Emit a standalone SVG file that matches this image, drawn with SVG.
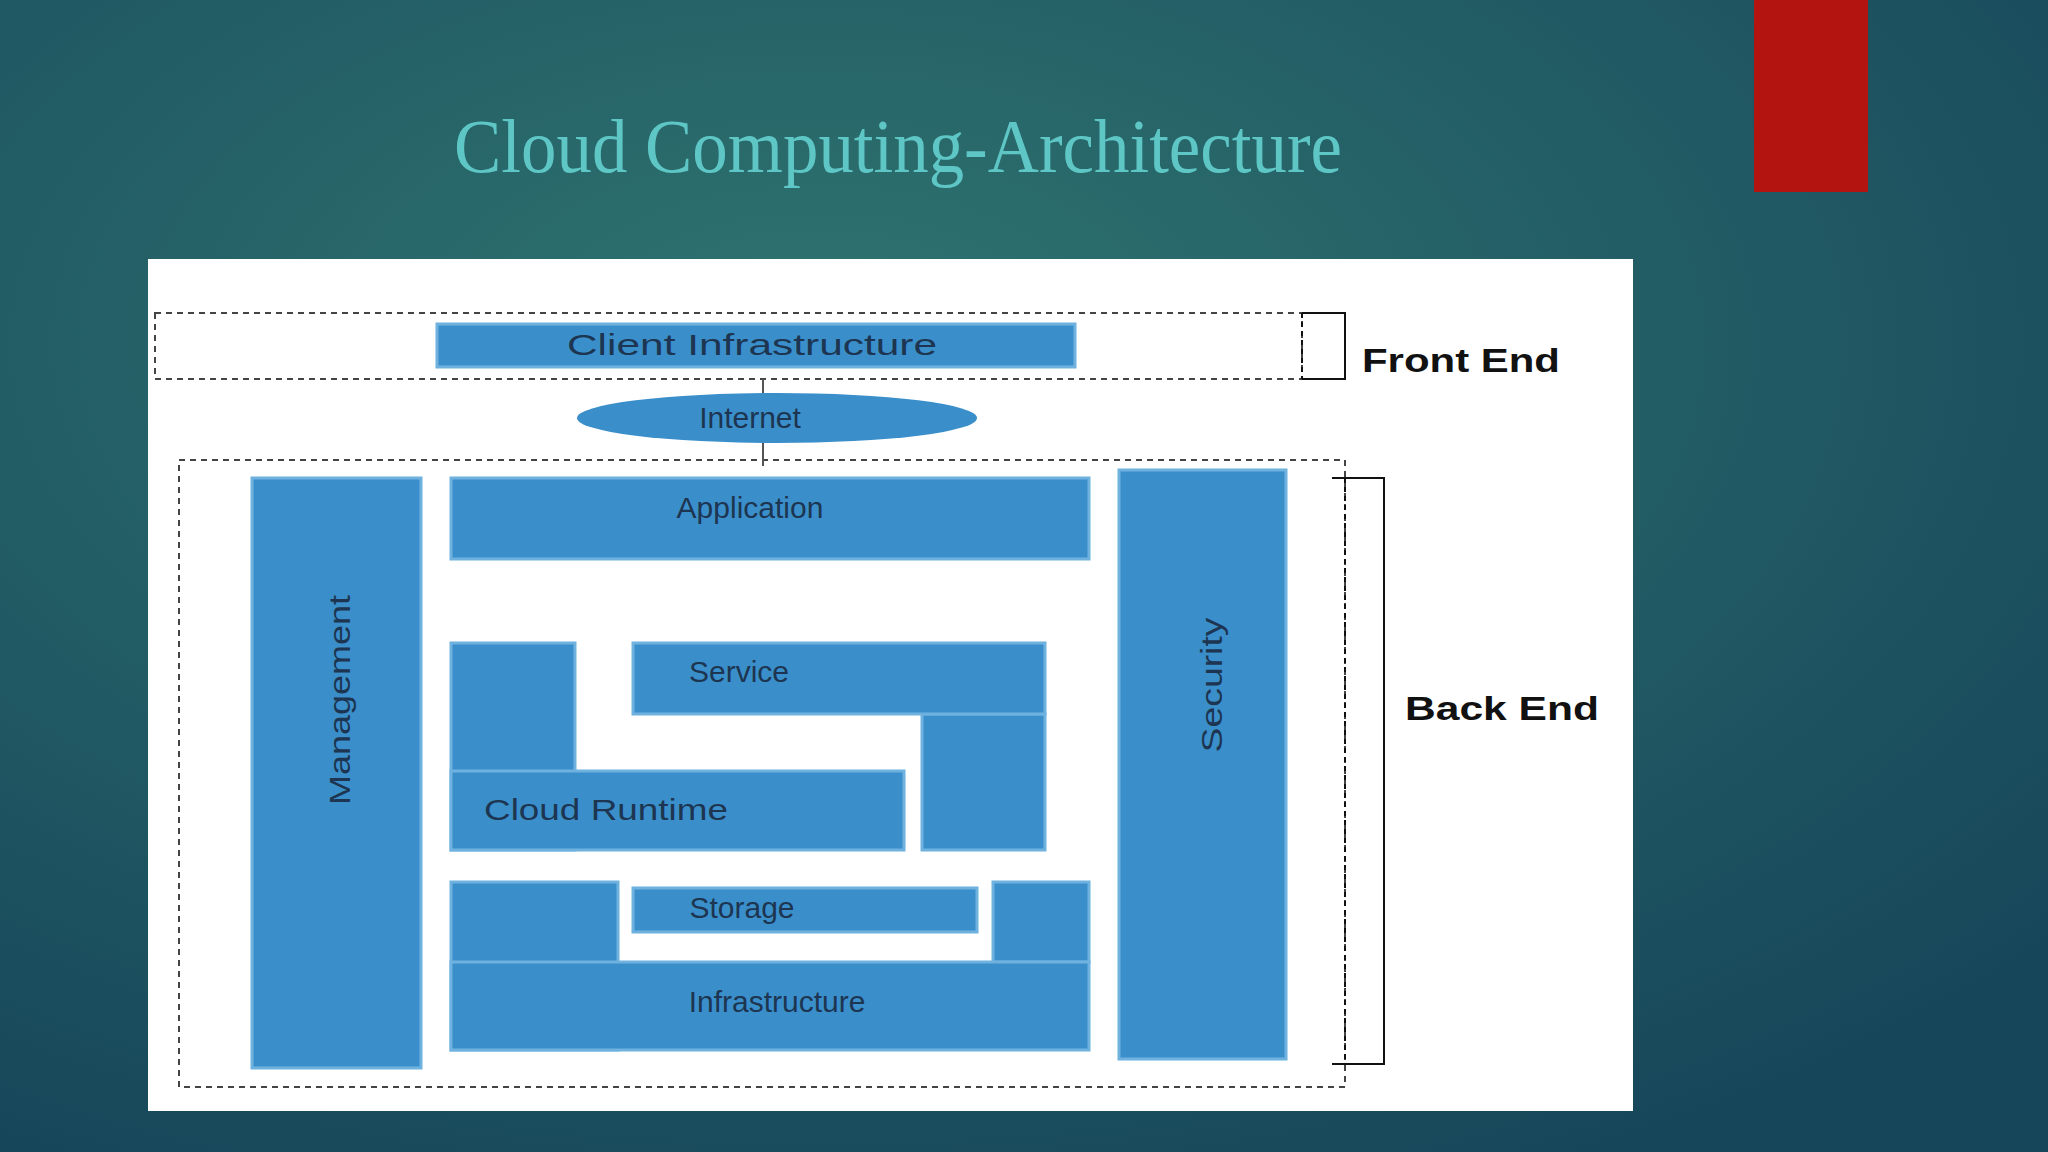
<svg xmlns="http://www.w3.org/2000/svg" width="2048" height="1152" viewBox="0 0 2048 1152">
<defs>
<radialGradient id="bg" cx="0.4" cy="0.3" r="0.8">
<stop offset="0" stop-color="#2f7470"/><stop offset="1" stop-color="#16465a"/>
</radialGradient>
<style>
.b{fill:#3a8fcb;stroke:#6fb2e0;stroke-width:3}
.t{font-family:"Liberation Sans",Arial,sans-serif;font-size:30px;fill:#1d3550}
.l{font-family:"Liberation Sans",Arial,sans-serif;font-size:33px;font-weight:bold;fill:#111}
.d{fill:none;stroke:#444;stroke-width:2;stroke-dasharray:6 5}
.k{fill:none;stroke:#111;stroke-width:2}
</style>
</defs>
<rect width="2048" height="1152" fill="url(#bg)"/>
<rect x="1754" y="0" width="114" height="192" fill="#b3140f"/>
<text x="898" y="172" text-anchor="middle" font-family="Liberation Serif,serif" font-size="76" fill="#5ec7c6" textLength="888" lengthAdjust="spacingAndGlyphs">Cloud Computing-Architecture</text>
<rect x="148" y="259" width="1485" height="852" fill="#fff"/>
<g id="connectors">
<rect class="d" x="155" y="313" width="1147" height="66"/>
<rect class="d" x="179" y="460" width="1166" height="627"/>
<line x1="763" y1="379" x2="763" y2="466" stroke="#555" stroke-width="2"/>
<polyline class="k" points="1302,313 1345,313 1345,379 1302,379"/>
<line class="k" x1="1302" y1="313" x2="1302" y2="379" stroke-dasharray="5 4"/>
<polyline class="k" points="1332,478 1384,478 1384,1064 1332,1064"/>
<line class="k" x1="1345" y1="478" x2="1345" y2="1064" stroke-dasharray="5 4"/>
</g>
<g id="client"><rect class="b" x="437" y="324" width="638" height="43"/><text class="t" x="752" y="355" text-anchor="middle" textLength="370" lengthAdjust="spacingAndGlyphs">Client Infrastructure</text></g>
<g id="internet"><ellipse cx="777" cy="418" rx="200" ry="25" fill="#3a8fcb"/><text class="t" x="750" y="428" text-anchor="middle">Internet</text></g>
<g id="management"><rect class="b" x="252" y="478" width="169" height="590"/><text class="t" font-size="40" transform="translate(350,700) rotate(-90)" text-anchor="middle" textLength="210" lengthAdjust="spacingAndGlyphs">Management</text></g>
<g id="application"><rect class="b" x="451" y="478" width="638" height="81"/><text class="t" x="750" y="518" text-anchor="middle">Application</text></g>
<g id="security"><rect class="b" x="1119" y="470" width="167" height="589"/><text class="t" font-size="40" transform="translate(1222,685) rotate(-90)" text-anchor="middle" textLength="135" lengthAdjust="spacingAndGlyphs">Security</text></g>
<g id="service"><rect class="b" x="922" y="714" width="123" height="136"/><rect class="b" x="633" y="643" width="412" height="71"/><text class="t" x="739" y="682" text-anchor="middle">Service</text></g>
<g id="runtime"><rect class="b" x="451" y="643" width="124" height="207"/><rect class="b" x="451" y="771" width="453" height="79"/><text class="t" x="484" y="820" textLength="244" lengthAdjust="spacingAndGlyphs">Cloud Runtime</text></g>
<g id="infrastructure"><rect class="b" x="451" y="882" width="167" height="168"/><rect class="b" x="993" y="882" width="96" height="80"/><rect class="b" x="451" y="962" width="638" height="88"/><text class="t" x="777" y="1012" text-anchor="middle">Infrastructure</text></g>
<g id="storage"><rect class="b" x="633" y="888" width="344" height="44"/><text class="t" x="742" y="918" text-anchor="middle">Storage</text></g>
<text class="l" x="1362" y="372" textLength="198" lengthAdjust="spacingAndGlyphs">Front End</text>
<text class="l" x="1405" y="720" textLength="194" lengthAdjust="spacingAndGlyphs">Back End</text>
</svg>
